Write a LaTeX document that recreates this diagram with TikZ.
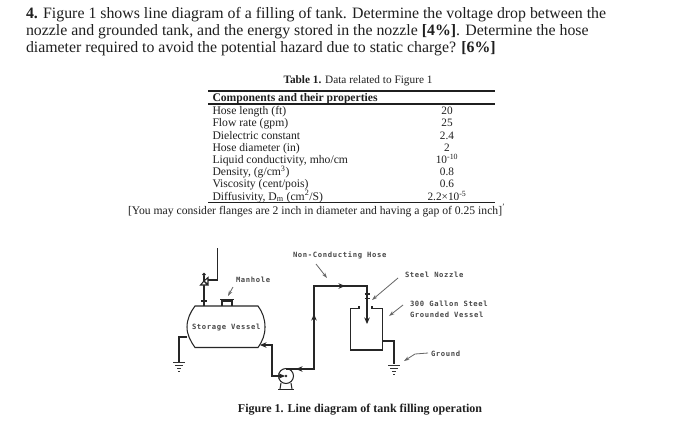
\documentclass[tikz,border=0pt]{standalone}
\usepackage{fontspec}
\setmainfont{Liberation Serif}
\newfontfamily\lblfont[LetterSpace=9]{DejaVu Sans Mono}
\usetikzlibrary{arrows.meta,decorations.markings}
\definecolor{ink}{gray}{0.12}
\tikzset{
  x=1pt,y=-1pt,
  every node/.style={inner sep=0pt,outer sep=0pt,text=ink},
  headtext/.style={anchor=base west,font=\fontsize{15.85}{15.85}\selectfont},
  celltext/.style={anchor=base west,font=\fontsize{11.65}{11.65}\selectfont},
  valtext/.style={anchor=base,font=\fontsize{11.3}{11.3}\selectfont},
  lbl/.style={anchor=base west,font=\lblfont\fontsize{7.2}{7.2}\selectfont\bfseries,text=black!72},
  rulea/.style={line width=1.1pt,draw=ink},
  pipe/.style={line width=1.05pt,draw=black!85},
  leader/.style={line width=0.8pt,draw=black!60,-{Stealth[length=5.5pt,width=3.6pt]}},
  flowtip/.style={line width=1.05pt,draw=black!85,-{Stealth[length=6.5pt,width=5.5pt]}},
}
\newcommand{\groundsym}[2]{%
  \draw[line width=0.9pt,draw=black!80] (#1-6,#2)--(#1+6,#2) (#1-4,#2+3)--(#1+4,#2+3) (#1-2,#2+6)--(#1+2,#2+6) (#1-0.6,#2+9)--(#1+0.6,#2+9);}
\begin{document}
\begin{tikzpicture}
\useasboundingbox[fill=white] (0,0) rectangle (700,437);
% question
\node[headtext] (q1) at (26,18) {\textbf{4.} Figure 1 shows line diagram of a filling of tank. Determine the voltage drop between the};
\node[headtext] (q2) at (26,35.5) {nozzle and grounded tank, and the energy stored in the nozzle \textbf{[4\%]}. Determine the hose};
\node[headtext] (q3) at (26,52.5) {diameter required to avoid the potential hazard due to static charge? \textbf{[6\%]}};
% table
\node[anchor=base,font=\fontsize{11.3}{11.3}\selectfont] (tt) at (358,83.5) {\textbf{Table 1.} Data related to Figure 1};
\coordinate (r1a) at (208,91); \coordinate (r1b) at (495,91);
\coordinate (r2a) at (208,104); \coordinate (r2b) at (495,104);
\coordinate (r3a) at (208,202.5); \coordinate (r3b) at (495,202.5);
\draw[rulea] (r1a)--(r1b); \draw[rulea] (r2a)--(r2b); \draw[rulea] (r3a)--(r3b);
\node[celltext] (h) at (212.5,101.5) {\textbf{Components and their properties}};
\node[celltext] (c1) at (212.5,114.5) {Hose length (ft)};
\node[celltext] (c2) at (212.5,126.5) {Flow rate (gpm)};
\node[celltext] (c3) at (212.5,139) {Dielectric constant};
\node[celltext] (c4) at (212.5,151) {Hose diameter (in)};
\node[celltext] (c5) at (212.5,163.5) {Liquid conductivity, mho/cm};
\node[celltext] (c6) at (212.5,175.5) {Density, (g/cm\textsuperscript{3})};
\node[celltext] (c7) at (212.5,187.5) {Viscosity (cent/pois)};
\node[celltext] (c8) at (212.5,200) {Diffusivity, D\textsubscript{m} (cm\textsuperscript{2}/S)};
\node[valtext] (v1) at (447,114.5) {20};
\node[valtext] (v2) at (447,126.5) {25};
\node[valtext] (v3) at (447,139) {2.4};
\node[valtext] (v4) at (447,151) {2};
\node[valtext] (v5) at (447,163.5) {10\textsuperscript{-10}};
\node[valtext] (v6) at (447,175.5) {0.8};
\node[valtext] (v7) at (447,187.5) {0.6};
\node[valtext] (v8) at (447,200) {2.2×10\textsuperscript{-5}};
\node[celltext] (note) at (128,214) {[You may consider flanges are 2 inch in diameter and having a gap of 0.25 inch]\textsuperscript{'}};
% storage vessel
\draw[pipe] (195,306)--(258,306) .. controls (262.5,312) and (265,319) .. (265,327) .. controls (265,335) and (262.5,341) .. (258,347.5) -- (195,347.5) .. controls (190.5,341) and (187,335) .. (187,327) .. controls (187,319) and (190.5,312) .. (195,306) -- cycle;
\node[lbl] (sv) at (192,329.5) {Storage Vessel};
% manhole
\draw[pipe] (222,306)--(222,301)--(232,301)--(232,306);
\draw[pipe] (220,299.5)--(234,299.5);
\node[lbl] (mh) at (236,282) {Manhole};
\coordinate (mhA) at (233,287); \coordinate (mhB) at (228,296);
\draw[leader] (mhA)--(mhB);
% inlet valve
\coordinate (vtop) at (204,306); \coordinate (vv) at (204,281);
\draw[pipe] (vtop)--(vv);
\draw[pipe] (201,301)--(207,301);
\draw[pipe,fill=white] (204,281)--(200.5,285)--(207.5,285)--cycle;
\draw[pipe,fill=white] (204,281)--(208,277.5)--(208,284.5)--cycle;
\draw[pipe] (204,281)--(204,276);
\fill[black!85] (204,274.5) circle (1.8pt);
\coordinate (inT) at (217.5,248); \coordinate (inB) at (217.5,280);
\draw[pipe] (208,280)--(inB)--(inT);
% vessel ground left
\coordinate (glA) at (187,337); \coordinate (glB) at (179,337); \coordinate (glC) at (179,362);
\draw[pipe] (glA)--(glB)--(glC);
\groundsym{179}{362.5}
% pump
\node[circle,draw=black!85,line width=1.05pt,minimum size=15pt,fill=white] (pump) at (286,376) {};
\fill[black!85] (286,376) circle (1.4pt);
\draw[pipe] (281,383)--(280,389) (291,383)--(292,389);
\draw[pipe] (278,389.3)--(294,389.3);
% suction
\coordinate (sA) at (272,345); \coordinate (sB) at (272,376);
\draw[pipe] (pump.west)--(sB)--(sA)--(266,345);
\draw[flowtip] (270,345)--(260,345);
\draw[flowtip] (274,376)--(285,376);
% discharge
\coordinate (dA) at (314,369); \coordinate (dB) at (314,286); \coordinate (dC) at (367,286); \coordinate (dD) at (367,317);
\draw[pipe] (286,369)--(dA)--(dB)--(dC)--(dD);
\draw[flowtip] (310,369)--(296,369);
\draw[flowtip] (314,325)--(314,314);
\draw[flowtip] (334,286)--(345,286);
\draw[flowtip] (367,312)--(367,324);
\draw[pipe] (364.5,294)--(369.5,294) (364.5,298.5)--(369.5,298.5);
% filling vessel
\draw[pipe] (359,306)--(359,308.5)--(350.5,308.5)--(350.5,350)--(382.5,350)--(382.5,308.5)--(372,308.5)--(372,306);
% vessel ground
\coordinate (grA) at (382.5,341); \coordinate (grB) at (394,341); \coordinate (grC) at (394,364);
\draw[pipe] (grA)--(grB)--(grC);
\groundsym{394}{365}
% labels
\node[lbl] (nch) at (293,257.5) {Non-Conducting Hose};
\coordinate (nA) at (316,264); \coordinate (nB) at (327,278);
\draw[leader] (nA)--(nB);
\node[lbl] (sn) at (405,277.5) {Steel Nozzle};
\coordinate (snA) at (398,278); \coordinate (snB) at (372,300);
\draw[leader] (snA)--(snB);
\node[lbl] (g1) at (410,306) {300 Gallon Steel};
\node[lbl] (g2) at (410,317) {Grounded Vessel};
\coordinate (gvA) at (403,305); \coordinate (gvB) at (389,316);
\draw[leader] (gvA)--(gvB);
\node[lbl] (gl) at (431,356.5) {Ground};
\coordinate (gA) at (428,353); \coordinate (gM) at (415,354); \coordinate (gB) at (404,361);
\draw[leader] (gA)--(gM)--(gB);
% caption
\node[anchor=base,font=\fontsize{12}{12}\selectfont] (cap) at (360,412) {\textbf{Figure 1. Line diagram of tank filling operation}};
\end{tikzpicture}
\end{document}
